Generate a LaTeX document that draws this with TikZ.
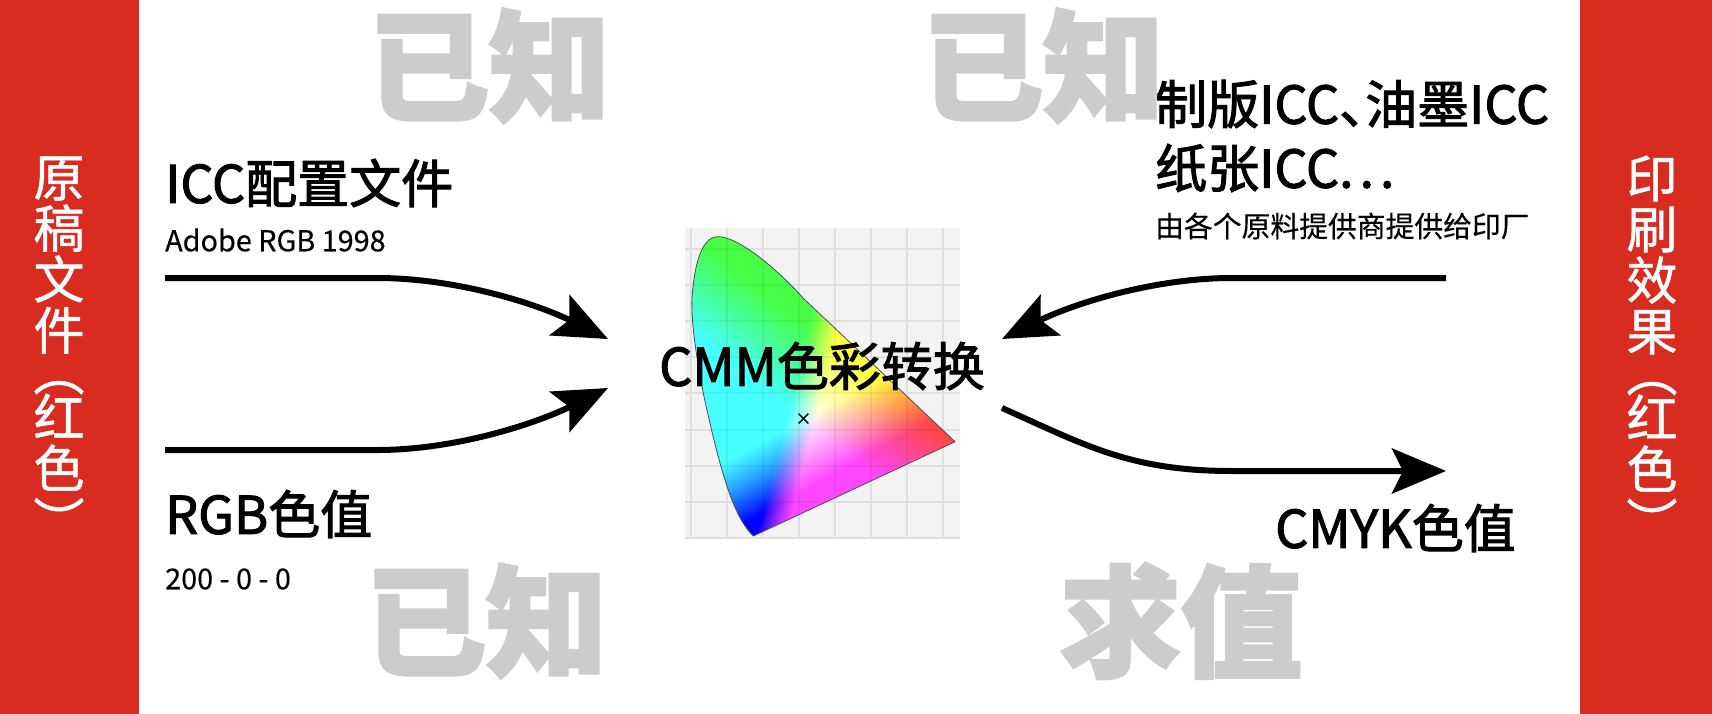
\documentclass[tikz,border=0pt]{standalone}
\usepackage{fontspec}
\usepackage{tikz}
\usetikzlibrary{arrows.meta}

\setmainfont{Noto Sans CJK SC}
\newfontfamily\cjksmall[FakeBold=0.3]{Noto Sans CJK SC}
\newfontfamily\cjkbar[FakeBold=1]{Noto Sans CJK SC}
\newfontfamily\cjkmid[FakeBold=2]{Noto Sans CJK SC}
\newfontfamily\cjkheavy[BoldFeatures={FakeBold=2.5}]{Noto Sans CJK SC}

\definecolor{barred}{HTML}{D82C20}
\definecolor{ghostgray}{HTML}{CCCCCC}
\definecolor{panelgray}{HTML}{F3F3F3}
\definecolor{gridgray}{HTML}{DFDFDF}

% chromaticity field: x y -> r g b
\pgfdeclarefunctionalshading{ciefield}{\pgfpointorigin}{\pgfpoint{100bp}{100bp}}{}{
	0.01722 mul 0.4306 sub exch 0.01528 mul 0.398 sub exch
	1 index 12 mul 1 index -3 mul add -2.16 add
	2 index -2.758 mul 2 index 5.008 mul add 0.2 add
	3 index -3.004 mul 3 index -3.783 mul add 3.171 add
	5 -2 roll pop pop
	dup 0 lt {pop 0} if dup 1 gt {pop 1} if 3 1 roll
	dup 0 lt {pop 0} if dup 1 gt {pop 1} if 3 1 roll
	dup 0 lt {pop 0} if dup 1 gt {pop 1} if 3 1 roll
	2 index 2 index 2 copy lt {exch} if pop 0.28 mul
	exch 1 index 1 exch sub mul 1 index add 4 1 roll
	exch 1 index 1 exch sub mul 1 index add 4 1 roll
	exch 1 index 1 exch sub mul 1 index add 4 1 roll
	pop
}

\begin{document}
\begin{tikzpicture}[x=1pt,y=-1pt]

	\tikzstyle{bar} = [draw=none, fill=barred]
	\tikzstyle{bar_text} = [text=white, align=center, inner sep=0pt, font=\cjkbar\fontsize{51}{51}\selectfont]
	\tikzstyle{ghost} = [text=ghostgray, inner sep=0pt, font=\cjkheavy\bfseries\fontsize{121}{121}\selectfont]
	\tikzstyle{title} = [anchor=west, inner sep=0pt, align=left, font=\cjkmid\fontsize{52}{64}\selectfont]
	\tikzstyle{small} = [anchor=west, inner sep=0pt, font=\cjksmall\fontsize{28.8}{28.8}\selectfont]
	\tikzstyle{flow} = [line width=6pt, -{Stealth[length=54pt,width=45pt,inset=11pt]}]

	\useasboundingbox (0,0) rectangle (1712,714);
	\fill[white] (0,0) rectangle (1712,714);

%------------------------------------------------------------
	\fill[bar] (0,0) rectangle (139,714);
	\fill[bar] (1580,0) rectangle (1712,714);

	\node[bar_text] (src) at (59,348.5) {原\\稿\\文\\件\\[-10pt]︵\\[-5pt]红\\色\\[2pt]︶};
	\node[bar_text] (dst) at (1652,348.5) {印\\刷\\效\\果\\[-10pt]︵\\[-5pt]红\\色\\[2pt]︶};
%------------------------------------------------------------
	\node[ghost] (known1) at (489,66) {已知};
	\node[ghost] (known2) at (1043,66) {已知};
	\node[ghost] (known3) at (486,621) {已知};
	\node[ghost] (solve) at (1181,621) {求值};
%------------------------------------------------------------
	\fill[panelgray] (685,228) rectangle (960,538);
	\foreach \x in {691,727,763,799,835,871,907,943}
		\draw[gridgray, line width=1.5pt] (\x,228) -- (\x,538);
	\foreach \y in {249,285,321,357,393,430,466,502,538}
		\draw[gridgray, line width=1.5pt] (685,\y) -- (960,\y);

	\def\gamutoutline{(753.3,536) .. controls (735,518) and (722,480) .. (703.3,393.3)
		.. controls (694,345) and (690,310) .. (692.7,290)
		.. controls (696,255) and (705,236) .. (718.3,236.7)
		.. controls (740,237) and (780,272) .. (803.3,298.3) -- (955,441.7) -- cycle}

	\begin{scope}
		\clip \gamutoutline;
		\shade[shading=ciefield] (685,228) rectangle (960,538);
		\foreach \x in {727,763,799,835,871,907}
			\draw[black, opacity=0.05, line width=1.5pt] (\x,228) -- (\x,538);
		\foreach \y in {249,285,321,357,393,430,466,502}
			\draw[black, opacity=0.05, line width=1.5pt] (685,\y) -- (960,\y);
	\end{scope}
	\draw[black!70, line width=0.8pt] \gamutoutline;
	\node[inner sep=0pt, font=\cjkbar\fontsize{16}{16}\selectfont] (wp) at (803.5,419) {×};
%------------------------------------------------------------
	\node[title] (icc) at (165,183) {ICC配置文件};
	\node[small] (adobe) at (165,240) {Adobe RGB 1998};
	\node[title] (rgb) at (165,514) {RGB色值};
	\node[small] (rgbval) at (165,579) {200 - 0 - 0};

	\node[title] (plates) at (1155,136) {制版ICC、\kern-26pt油墨ICC\\纸张ICC.\kern6pt.\kern6pt.};
	\node[small] (supply) at (1155,226) {由各个原料提供商提供给印厂};
	\node[title] (cmyk) at (1275,528) {CMYK色值};

	\node[title, anchor=center] (cmm) at (822,366) {CMM色彩转换};
%------------------------------------------------------------
	\coordinate (a1) at (165,278);
	\coordinate (a1s) at (377,278);
	\coordinate (a1e) at (608,339);
	\coordinate (a2) at (165,450);
	\coordinate (a2s) at (377,450);
	\coordinate (a2e) at (608,388);
	\coordinate (a3) at (1446,278);
	\coordinate (a3s) at (1232,278);
	\coordinate (a3e) at (1002,339);
	\coordinate (a4) at (1002,408);
	\coordinate (a4s) at (1232,471);
	\coordinate (a4e) at (1446,471);

	\draw[flow] (a1) -- (a1s) .. controls (455,278) and (535,303) .. (a1e);
	\draw[flow] (a2) -- (a2s) .. controls (455,450) and (535,424) .. (a2e);
	\draw[flow] (a3) -- (a3s) .. controls (1155,278) and (1075,303) .. (a3e);
	\draw[flow] (a4) .. controls (1085,445) and (1130,471) .. (a4s) -- (a4e);

\end{tikzpicture}
\end{document}
